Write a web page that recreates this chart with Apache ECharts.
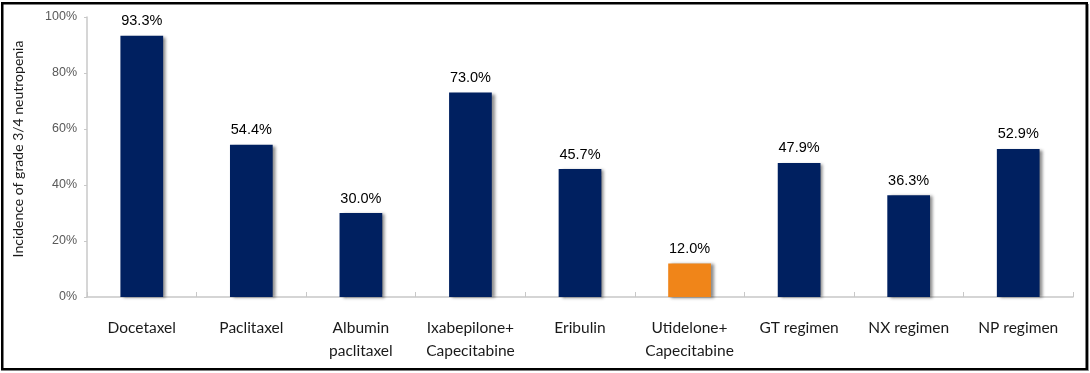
<!DOCTYPE html>
<html>
<head>
<meta charset="utf-8">
<script src="https://cdn.jsdelivr.net/npm/echarts@6/dist/echarts.min.js"></script>
<style>
html,body{margin:0;padding:0;background:#fff;}
#chart{width:1090px;height:373px;}
</style>
</head>
<body>
<div id="chart"></div>
<script>
const categories = ['Docetaxel','Paclitaxel','Albumin\npaclitaxel','Ixabepilone+\nCapecitabine','Eribulin','Utidelone+\nCapecitabine','GT regimen','NX regimen','NP regimen'];
const values = [93.3, 54.4, 30.0, 73.0, 45.7, 12.0, 47.9, 36.3, 52.9];
const highlightIndex = 5;
const yTicks = [0, 20, 40, 60, 80, 100];
const yAxisName = 'Incidence of grade 3/4 neutropenia';

const navy = '#002060';
const orange = '#F08519';

const chart = echarts.init(document.getElementById('chart'), null, {renderer:'canvas'});
chart.setOption({
  animation:false,
  backgroundColor:'#fff',
  grid:{left:87, right:17, top:17, bottom:76, containLabel:false},
  graphic:[{
    type:'rect', shape:{x:2.25, y:3.25, width:1084.5, height:366}, z:100,
    style:{fill:'none', stroke:'#000', lineWidth:2.5}
  },{
    type:'line', shape:{x1:1088.5, y1:4, x2:1088.5, y2:371}, z:99,
    style:{stroke:'#999', lineWidth:1}
  }],
  xAxis:{
    type:'category', data:categories,
    axisLine:{lineStyle:{color:'#c8c8c8', width:1.5}},
    axisTick:{show:true, inside:true, length:5, lineStyle:{color:'#c8c8c8'}},
    axisLabel:{color:'#1a1a1a', fontSize:15.5, fontFamily:'Lato, "Open Sans", sans-serif', margin:19, lineHeight:23, interval:0}
  },
  yAxis:{
    type:'value', min:yTicks[0], max:yTicks[yTicks.length-1], interval:20,
    name:yAxisName, nameLocation:'middle', nameGap:62,
    nameTextStyle:{color:'#1a1a1a', fontSize:14, fontFamily:'Lato, "Open Sans", sans-serif', padding:[0,0,0,16]},
    axisLine:{show:true, lineStyle:{color:'#c8c8c8', width:1.5}},
    axisTick:{show:true, length:3, lineStyle:{color:'#c8c8c8'}},
    splitLine:{show:false},
    axisLabel:{color:'#595959', fontSize:12.5, fontFamily:'"Liberation Sans", Arial, sans-serif', margin:10, formatter:'{value}%'}
  },
  series:[{
    type:'bar', barWidth:'39%',
    data:values.map((v,i)=>({value:v, itemStyle:{color: i===highlightIndex?orange:navy}})),
    itemStyle:{shadowColor:'rgba(0,0,0,0.45)', shadowBlur:3, shadowOffsetX:3, shadowOffsetY:1},
    label:{show:true, position:'top', distance:7, color:'#000', fontSize:14.5, fontFamily:'"Liberation Sans", Arial, sans-serif',
      formatter:p=>p.value.toFixed(1)+'%'}
  }]
});
</script>
</body>
</html>
